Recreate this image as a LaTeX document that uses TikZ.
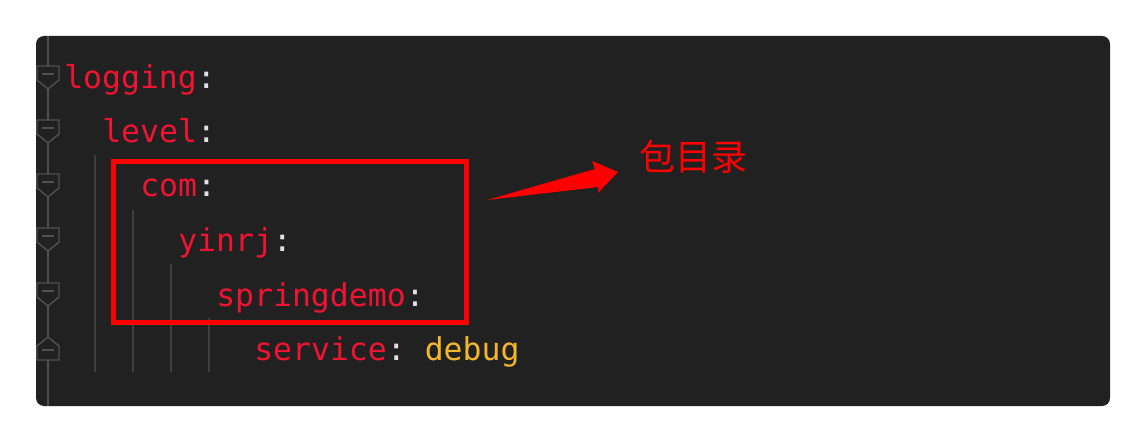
\documentclass[tikz,border=0pt]{standalone}
\usepackage{fontspec}
\setmonofont{DejaVu Sans Mono}
\newfontfamily\cjk{Noto Sans CJK SC}
\definecolor{bgdark}{RGB}{33,33,33}
\definecolor{keyred}{RGB}{240,20,50}
\definecolor{boxred}{RGB}{255,0,0}
\definecolor{valorange}{RGB}{245,183,42}
\definecolor{colonc}{RGB}{225,225,225}
\definecolor{guide}{RGB}{62,62,62}
\definecolor{fold}{RGB}{80,80,80}
\begin{document}
\begin{tikzpicture}[x=0.75pt,y=-0.75pt,
  code/.style={anchor=base west,inner sep=0pt,font=\ttfamily\fontsize{23.6}{28}\selectfont},
  foldmark/.style={draw=fold,line width=1.1pt,fill=bgdark}]
\useasboundingbox (0,0) rectangle (1146,442);
\fill[white] (0,0) rectangle (1146,442);
\fill[bgdark,rounded corners=6pt] (36,36) rectangle (1110,406);
% gutter line
\draw[fold,line width=1.1pt] (48,36) -- (48,406);
% indent guides
\foreach \x/\y in {95/155,133/210,171/264,209/318}
  \draw[guide,line width=1.1pt] (\x,\y) -- (\x,372);
% fold markers
\foreach \y in {78,132,186,240,295}{
  \draw[foldmark] (37,\y-12) -- (59,\y-12) -- (59,\y+2) -- (48,\y+11) -- (37,\y+2) -- cycle;
  \draw[fold,line width=1.1pt] (42,\y-4) -- (54,\y-4);
}
\draw[foldmark] (37,360) -- (59,360) -- (59,346) -- (48,337) -- (37,346) -- cycle;
\draw[fold,line width=1.1pt] (42,350) -- (54,350);
% code
\node[code] (l1) at (64,89)  {\textcolor{keyred}{logging}\textcolor{colonc}{:}};
\node[code] (l2) at (102,143) {\textcolor{keyred}{level}\textcolor{colonc}{:}};
\node[code] (l3) at (140,197) {\textcolor{keyred}{com}\textcolor{colonc}{:}};
\node[code] (l4) at (178,251) {\textcolor{keyred}{yinrj}\textcolor{colonc}{:}};
\node[code] (l5) at (216,306) {\textcolor{keyred}{springdemo}\textcolor{colonc}{:}};
\node[code] (l6) at (254,360) {\textcolor{keyred}{service}\textcolor{colonc}{:} \textcolor{valorange}{debug}};
% highlight box
\node[draw=boxred,line width=3.6pt,minimum width=265pt,minimum height=121pt,inner sep=0pt,anchor=north west] (box) at (111,159) {};
% label
\node[text=boxred,font=\cjk\fontsize{27}{30}\selectfont,anchor=west,inner sep=0pt] (lab) at (639,157) {包目录};
% arrow
\fill[boxred] (487,200) -- (595,169) -- (592,161) -- (618,172) -- (598,193) -- (598,187) -- cycle;
\end{tikzpicture}
\end{document}
